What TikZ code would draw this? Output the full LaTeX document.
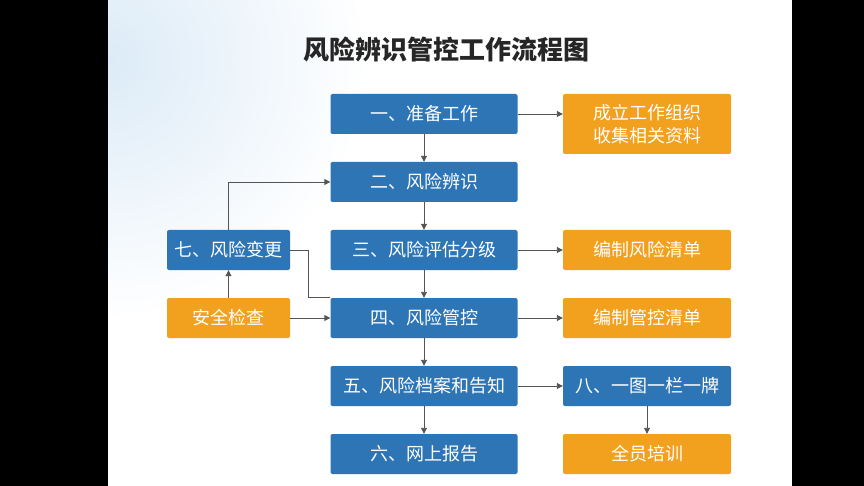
\documentclass[tikz,border=0pt]{standalone}
\usepackage{fontspec}
\setmainfont{Noto Sans CJK SC}
\usetikzlibrary{arrows.meta}
\definecolor{bbox}{HTML}{2E75B6}
\definecolor{obox}{HTML}{F2A11F}
\definecolor{lnc}{HTML}{555555}
\definecolor{bgb}{HTML}{DCEBF7}
\tikzset{
 base/.style={rounded corners=2pt,text=white,font=\fontsize{18}{23}\selectfont,inner sep=0pt,align=center},
 bb/.style={base,fill=bbox,minimum width=187pt,minimum height=40pt},
 ob/.style={base,fill=obox,minimum width=168pt,minimum height=40pt},
 lb/.style={base,minimum width=123pt,minimum height=40pt},
 arr/.style={draw=lnc,line width=0.9pt,-{Triangle[length=6pt,width=6pt]}},
 ln/.style={draw=lnc,line width=0.9pt}
}
\begin{document}
\begin{tikzpicture}[x=1pt,y=-1pt]
\useasboundingbox (0,0) rectangle (864,486);
\fill[black] (0,0) rectangle (864,486);
\fill[white] (108,0) rectangle (792,486);
\begin{scope}
\clip (108,0) rectangle (792,486);
\shade[inner color=bgb,outer color=white] (108,60) circle (260);
\end{scope}
\node[font=\fontsize{26}{30}\selectfont\bfseries,text=black!85] (t) at (446,50) {风险辨识管控工作流程图};
\node[bb] (n1) at (424,114) {一、准备工作};
\node[bb] (n2) at (424,182) {二、风险辨识};
\node[bb] (n3) at (424,250) {三、风险评估分级};
\node[bb] (n4) at (424,318) {四、风险管控};
\node[bb] (n5) at (424,386) {五、风险档案和告知};
\node[bb] (n6) at (424,454) {六、网上报告};
\node[ob,minimum height=60pt] (r1) at (647,124) {成立工作组织\\收集相关资料};
\node[ob] (r3) at (647,250) {编制风险清单};
\node[ob] (r4) at (647,318) {编制管控清单};
\node[bb,minimum width=168pt] (r5) at (647,386) {八、一图一栏一牌};
\node[ob] (r6) at (647,454) {全员培训};
\node[lb,fill=bbox] (l7) at (228.5,250) {七、风险变更};
\node[lb,fill=obox] (ls) at (228.5,318) {安全检查};
\draw[arr] (n1) -- (n2);
\draw[arr] (n2) -- (n3);
\draw[arr] (n3) -- (n4);
\draw[arr] (n4) -- (n5);
\draw[arr] (n5) -- (n6);
\draw[arr] (n1.east) -- (r1.west|-n1.east);
\draw[arr] (n3) -- (r3);
\draw[arr] (n4) -- (r4);
\draw[arr] (n5) -- (r5);
\draw[arr] (r5) -- (r6);
\draw[arr] (l7.north) |- (n2.west);
\draw[arr] (ls) -- (l7);
\draw[arr] (ls) -- (n4);
\draw[ln] (l7.east) -- (308,250) |- (n4.north west);
\end{tikzpicture}
\end{document}
